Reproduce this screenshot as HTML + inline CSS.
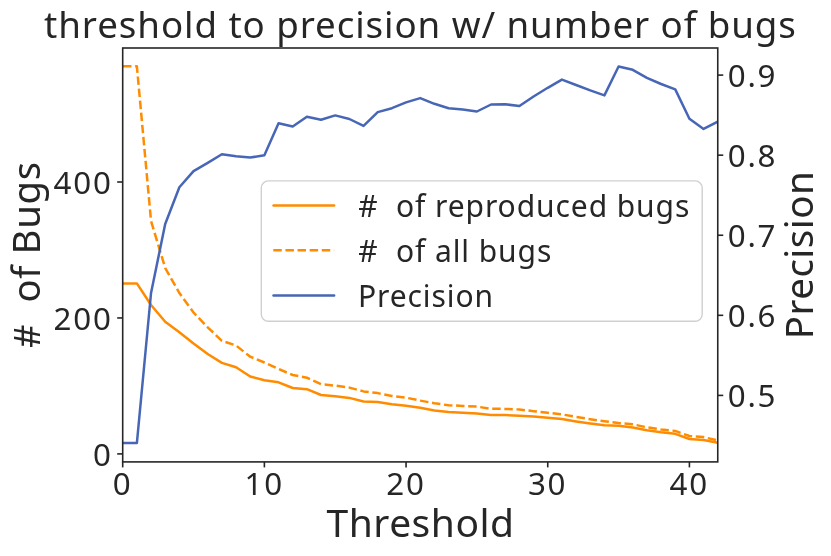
<!DOCTYPE html>
<html><head><meta charset="utf-8"><title>threshold to precision w/ number of bugs</title>
<style>html,body{margin:0;padding:0;background:#fff;width:831px;height:556px;overflow:hidden}svg{display:block}</style>
</head><body>
<svg width="831" height="556" viewBox="0 0 831 556">
<rect width="831" height="556" fill="#ffffff"/>
<defs><clipPath id="ax"><rect x="122.7" y="48.0" width="595.05" height="413.9"/></clipPath></defs>
<g clip-path="url(#ax)" fill="none" stroke-linejoin="round" stroke-linecap="round">
<polyline points="122.70,283.40 136.87,283.40 151.04,305.00 165.20,321.80 179.37,332.30 193.54,343.50 207.71,354.00 221.88,362.90 236.04,367.30 250.21,376.50 264.38,380.30 278.55,382.30 292.71,388.00 306.88,389.20 321.05,395.00 335.22,396.20 349.39,397.90 363.55,401.50 377.72,402.10 391.89,404.20 406.06,405.80 420.22,407.80 434.39,410.40 448.56,412.10 462.73,412.80 476.90,413.50 491.06,415.00 505.23,415.00 519.40,415.70 533.57,416.40 547.74,417.70 561.90,419.10 576.07,421.40 590.24,423.40 604.41,425.30 618.58,425.70 632.74,427.40 646.91,430.20 661.08,432.20 675.25,433.80 689.41,439.00 703.58,440.10 717.75,442.80" stroke="#ff8c00" stroke-width="2.5"/>
<polyline points="122.70,66.20 136.87,66.20 151.04,221.00 165.20,268.00 179.37,293.00 193.54,312.50 207.71,327.30 221.88,340.80 236.04,345.50 250.21,356.70 264.38,362.50 278.55,369.00 292.71,375.00 306.88,377.70 321.05,384.20 335.22,385.60 349.39,387.60 363.55,391.40 377.72,393.10 391.89,396.00 406.06,397.70 420.22,400.60 434.39,403.20 448.56,405.30 462.73,405.90 476.90,406.60 491.06,408.80 505.23,408.90 519.40,409.50 533.57,411.20 547.74,412.80 561.90,414.40 576.07,416.90 590.24,419.20 604.41,421.20 618.58,423.10 632.74,424.30 646.91,427.30 661.08,429.50 675.25,430.90 689.41,436.00 703.58,437.10 717.75,440.50" stroke="#ff8c00" stroke-width="2.5" stroke-dasharray="8.46,3.66" stroke-dashoffset="11.85" stroke-linecap="butt"/>
<polyline points="122.70,443.10 136.87,443.10 151.04,293.00 165.20,224.00 179.37,187.30 193.54,171.10 207.71,162.80 221.88,154.30 236.04,156.20 250.21,157.60 264.38,155.20 278.55,123.30 292.71,126.50 306.88,116.80 321.05,119.70 335.22,115.40 349.39,119.00 363.55,125.90 377.72,112.10 391.89,108.20 406.06,102.40 420.22,98.10 434.39,103.80 448.56,108.20 462.73,109.60 476.90,111.50 491.06,104.50 505.23,104.30 519.40,106.00 533.57,96.50 547.74,87.80 561.90,79.60 576.07,85.00 590.24,90.40 604.41,95.40 618.58,66.50 632.74,69.80 646.91,77.90 661.08,84.00 675.25,89.40 689.41,118.80 703.58,128.90 717.75,121.70" stroke="#4766b6" stroke-width="2.5"/>
</g>
<rect x="122.7" y="48.0" width="595.05" height="413.9" fill="none" stroke="#262626" stroke-width="1.6"/>
<line x1="117.2" y1="453.9" x2="122.7" y2="453.9" stroke="#262626" stroke-width="1.6"/>
<line x1="117.2" y1="317.95" x2="122.7" y2="317.95" stroke="#262626" stroke-width="1.6"/>
<line x1="117.2" y1="182.0" x2="122.7" y2="182.0" stroke="#262626" stroke-width="1.6"/>
<line x1="717.75" y1="395.40" x2="723.25" y2="395.40" stroke="#262626" stroke-width="1.6"/>
<line x1="717.75" y1="315.32" x2="723.25" y2="315.32" stroke="#262626" stroke-width="1.6"/>
<line x1="717.75" y1="235.25" x2="723.25" y2="235.25" stroke="#262626" stroke-width="1.6"/>
<line x1="717.75" y1="155.17" x2="723.25" y2="155.17" stroke="#262626" stroke-width="1.6"/>
<line x1="717.75" y1="75.10" x2="723.25" y2="75.10" stroke="#262626" stroke-width="1.6"/>
<line x1="122.70" y1="461.9" x2="122.70" y2="467.4" stroke="#262626" stroke-width="1.6"/>
<line x1="264.38" y1="461.9" x2="264.38" y2="467.4" stroke="#262626" stroke-width="1.6"/>
<line x1="406.06" y1="461.9" x2="406.06" y2="467.4" stroke="#262626" stroke-width="1.6"/>
<line x1="547.74" y1="461.9" x2="547.74" y2="467.4" stroke="#262626" stroke-width="1.6"/>
<line x1="689.41" y1="461.9" x2="689.41" y2="467.4" stroke="#262626" stroke-width="1.6"/>
<text x="112.60" y="465.50" text-anchor="end" font-family='"Noto Sans", "Open Sans", "Liberation Sans", "DejaVu Sans", sans-serif' font-size="31.3" letter-spacing="1.8" fill="#262626">0</text>
<text x="112.60" y="329.55" text-anchor="end" font-family='"Noto Sans", "Open Sans", "Liberation Sans", "DejaVu Sans", sans-serif' font-size="31.3" letter-spacing="1.8" fill="#262626">200</text>
<text x="112.60" y="193.60" text-anchor="end" font-family='"Noto Sans", "Open Sans", "Liberation Sans", "DejaVu Sans", sans-serif' font-size="31.3" letter-spacing="1.8" fill="#262626">400</text>
<text x="727.70" y="407.40" text-anchor="start" font-family='"Noto Sans", "Open Sans", "Liberation Sans", "DejaVu Sans", sans-serif' font-size="31.3" letter-spacing="1.8" fill="#262626">0.5</text>
<text x="727.70" y="327.32" text-anchor="start" font-family='"Noto Sans", "Open Sans", "Liberation Sans", "DejaVu Sans", sans-serif' font-size="31.3" letter-spacing="1.8" fill="#262626">0.6</text>
<text x="727.70" y="247.25" text-anchor="start" font-family='"Noto Sans", "Open Sans", "Liberation Sans", "DejaVu Sans", sans-serif' font-size="31.3" letter-spacing="1.8" fill="#262626">0.7</text>
<text x="727.70" y="167.17" text-anchor="start" font-family='"Noto Sans", "Open Sans", "Liberation Sans", "DejaVu Sans", sans-serif' font-size="31.3" letter-spacing="1.8" fill="#262626">0.8</text>
<text x="727.70" y="87.10" text-anchor="start" font-family='"Noto Sans", "Open Sans", "Liberation Sans", "DejaVu Sans", sans-serif' font-size="31.3" letter-spacing="1.8" fill="#262626">0.9</text>
<text x="122.60" y="495.00" text-anchor="middle" font-family='"Noto Sans", "Open Sans", "Liberation Sans", "DejaVu Sans", sans-serif' font-size="31.3" letter-spacing="1.8" fill="#262626">0</text>
<text x="264.28" y="495.00" text-anchor="middle" font-family='"Noto Sans", "Open Sans", "Liberation Sans", "DejaVu Sans", sans-serif' font-size="31.3" letter-spacing="1.8" fill="#262626">10</text>
<text x="405.96" y="495.00" text-anchor="middle" font-family='"Noto Sans", "Open Sans", "Liberation Sans", "DejaVu Sans", sans-serif' font-size="31.3" letter-spacing="1.8" fill="#262626">20</text>
<text x="547.64" y="495.00" text-anchor="middle" font-family='"Noto Sans", "Open Sans", "Liberation Sans", "DejaVu Sans", sans-serif' font-size="31.3" letter-spacing="1.8" fill="#262626">30</text>
<text x="689.31" y="495.00" text-anchor="middle" font-family='"Noto Sans", "Open Sans", "Liberation Sans", "DejaVu Sans", sans-serif' font-size="31.3" letter-spacing="1.8" fill="#262626">40</text>
<text x="420.46" y="38.45" text-anchor="middle" font-family='"Noto Sans", "Open Sans", "Liberation Sans", "DejaVu Sans", sans-serif' font-size="36.7" letter-spacing="0.93" fill="#262626">threshold to precision w/ number of bugs</text>
<text x="420.55" y="537.20" text-anchor="middle" font-family='"Noto Sans", "Open Sans", "Liberation Sans", "DejaVu Sans", sans-serif' font-size="39" letter-spacing="0.5" fill="#262626">Threshold</text>
<text transform="translate(812.55,255.00) rotate(-90)" text-anchor="middle" font-family='"Noto Sans", "Open Sans", "Liberation Sans", "DejaVu Sans", sans-serif' font-size="38.5" letter-spacing="0.5" fill="#262626">Precision</text>
<text transform="translate(40.20,347.90) rotate(-90)" font-family='"Noto Sans", "Open Sans", "Liberation Sans", "DejaVu Sans", sans-serif' font-size="38.3" letter-spacing="0.64" fill="#262626" xml:space="preserve"><tspan font-size="36.3">#</tspan>&#160; of Bugs</text>
<rect x="261.3" y="180.9" width="440.9" height="140.3" rx="7" ry="7" fill="#ffffff" fill-opacity="0.8" stroke="#d0d0d0" stroke-width="1.4"/>
<line x1="273.5" y1="205.4" x2="334.1" y2="205.4" stroke="#ff8c00" stroke-width="2.5" stroke-linecap="round"/>
<text x="358.20" y="216.60" font-family='"Noto Sans", "Open Sans", "Liberation Sans", "DejaVu Sans", sans-serif' font-size="30" letter-spacing="0.92" fill="#262626" xml:space="preserve">#&#160; of reproduced bugs</text>
<line x1="273.3" y1="250.2" x2="334.1" y2="250.2" stroke="#ff8c00" stroke-width="2.5" stroke-dasharray="8.46,3.66" stroke-linecap="butt"/>
<text x="358.20" y="261.60" font-family='"Noto Sans", "Open Sans", "Liberation Sans", "DejaVu Sans", sans-serif' font-size="30" letter-spacing="0.92" fill="#262626" xml:space="preserve">#&#160; of all bugs</text>
<line x1="273.5" y1="295.6" x2="334.1" y2="295.6" stroke="#4766b6" stroke-width="2.5" stroke-linecap="round"/>
<text x="357.90" y="306.60" font-family='"Noto Sans", "Open Sans", "Liberation Sans", "DejaVu Sans", sans-serif' font-size="30" letter-spacing="0.92" fill="#262626" xml:space="preserve">Precision</text>
</svg>
</body></html>
